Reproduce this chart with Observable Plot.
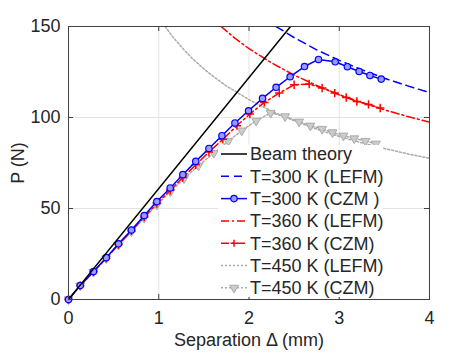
<!DOCTYPE html>
<html><head><meta charset="utf-8">
<script src="https://cdn.jsdelivr.net/npm/d3@7"></script>
<script src="https://cdn.jsdelivr.net/npm/@observablehq/plot@0.6"></script>
<style>body{margin:0;background:#fff;font-family:"Liberation Sans",Arial,sans-serif}</style>
</head><body><div id="chart"></div>
<script>
const xTicks = [0,1,2,3,4];
const yTicks = [0,50,100,150];
const beamX = [0, 2.46];
const beamP = [0, 150];
const lefm300X = [2.3,2.5,2.75,3,3.25,3.5,3.75,4];
const lefm300P = [150,143.9,137.2,131.4,126.2,121.6,117.5,113.7];
const cz300X = [0,0.13,0.277,0.418,0.554,0.698,0.839,0.979,1.127,1.267,1.41,1.556,1.70,1.844,1.995,2.15,2.30,2.456,2.615,2.77,2.955,3.09,3.22,3.34,3.465];
const cz300P = [0,7.7,15.4,23,30.6,38.2,46.1,53.8,61.3,68.6,75.9,83,90,97,103.7,110.5,116.6,122.4,128,131.9,130.6,127.9,125.3,123.1,121.1];
const lefm360X = [1.69,1.85,2,2.25,2.5,2.75,3,3.25,3.5,3.75,4];
const lefm360P = [150,143.3,137.8,130,123.3,117.6,112.6,108.2,104.2,100.7,97.5];
const cz360X = [0,0.13,0.277,0.418,0.554,0.698,0.839,0.979,1.127,1.267,1.41,1.556,1.71,1.866,2.01,2.17,2.335,2.50,2.667,2.81,2.95,3.077,3.195,3.324,3.454];
const cz360P = [0,7.6,15.2,22.7,30.2,37.7,45.3,52.7,60,67,74,81,88,95.5,101.9,108.3,113.4,118,118.4,116.2,113.4,111,108.8,107.2,105.2];
const lefm450X = [1.07,1.15,1.25,1.375,1.5,1.625,1.75,2,2.25,2.5,2.75,3,3.25,3.5,3.75,4];
const lefm450P = [150,144.7,138.8,132.3,126.7,121.8,117.3,109.8,103.5,98.2,93.6,89.6,86.1,83,80.1,77.6];
const cz450X = [0,0.13,0.277,0.418,0.554,0.698,0.839,0.979,1.13,1.28,1.44,1.61,1.77,1.92,2.08,2.24,2.40,2.555,2.68,2.81,2.925,3.047,3.166,3.29,3.406];
const cz450P = [0,7.6,15.1,22.6,30,37.4,44.8,52,59.3,66.5,73.5,80.5,87,92.8,98.2,102.5,100.6,97.7,95.5,93.7,91.8,90,88.5,87.1,85.6];
const legendLabels = ["Beam theory","T=300 K (LEFM)","T=300 K (CZM )","T=360 K (LEFM)","T=360 K (CZM)","T=450 K (LEFM)","T=450 K (CZM)"];

const zip = (X, Y) => X.map((x, i) => ({x, y: Y[i]}));
const beam = zip(beamX, beamP), l300 = zip(lefm300X, lefm300P), c300 = zip(cz300X, cz300P);
const l360 = zip(lefm360X, lefm360P), c360 = zip(cz360X, cz360P);
const l450 = zip(lefm450X, lefm450P), c450 = zip(cz450X, cz450P);

const W = 474, H = 355, mL = 68, mR = 45, mT = 26, mB = 56;
const fw = W - mL - mR, fh = H - mT - mB, tk = 5;
const ink = "#262626";
const styles = [
  {stroke: "#000", dash: null, sym: null},
  {stroke: "#0000ff", dash: "8,5", sym: null},
  {stroke: "#0000ff", dash: null, sym: "circle"},
  {stroke: "#ff0000", dash: "8,3,2,3", sym: null},
  {stroke: "#ff0000", dash: "8,3,2,3", sym: "plus"},
  {stroke: "#aaaaaa", dash: "2,2", sym: null},
  {stroke: "#aaaaaa", dash: "2,2", sym: "tri"}
];

const plot = Plot.plot({
  width: W, height: H, marginLeft: mL, marginRight: mR, marginTop: mT, marginBottom: mB,
  style: {fontFamily: '"Liberation Sans", Arial, sans-serif', fontSize: "18px", color: ink, background: "#fff"},
  x: {domain: [0, 4]},
  y: {domain: [0, 150]},
  marks: [
    Plot.gridX(xTicks, {stroke: "#e3e3e3", strokeOpacity: 1}),
    Plot.gridY(yTicks, {stroke: "#e3e3e3", strokeOpacity: 1}),
    Plot.line(l450, {x: "x", y: "y", stroke: "#aaaaaa", strokeWidth: 1.5, strokeDasharray: "2,2", clip: true}),
    Plot.line(c450, {x: "x", y: "y", stroke: "#aaaaaa", strokeWidth: 1.5, strokeDasharray: "2,2"}),
    Plot.dot(c450, {x: "x", y: "y", symbol: "triangle", rotate: 180, r: 3.3, fill: "#cccccc", stroke: "#aaaaaa", strokeWidth: 1}),
    Plot.line(l360, {x: "x", y: "y", stroke: "#ff0000", strokeWidth: 1.5, strokeDasharray: "8,3,2,3", clip: true}),
    Plot.line(c360, {x: "x", y: "y", stroke: "#ff0000", strokeWidth: 1.5, strokeDasharray: "8,3,2,3"}),
    Plot.dot(c360, {x: "x", y: "y", symbol: "plus", r: 2.8, stroke: "#ff0000", strokeWidth: 1.5}),
    Plot.line(l300, {x: "x", y: "y", stroke: "#0000ff", strokeWidth: 1.5, strokeDasharray: "8,5", clip: true}),
    Plot.line(c300, {x: "x", y: "y", stroke: "#0000ff", strokeWidth: 1.5}),
    Plot.dot(c300, {x: "x", y: "y", r: 3.2, fill: "#9a9aff", stroke: "#0000ff", strokeWidth: 1.2}),
    Plot.line(beam, {x: "x", y: "y", stroke: "#000", strokeWidth: 1.5, clip: true}),
    Plot.frame({stroke: "#404040", strokeWidth: 1}),
    Plot.tickX(xTicks, {x: d => d, stroke: "#404040", insetTop: fh - tk}),
    Plot.tickX(xTicks, {x: d => d, stroke: "#404040", insetBottom: fh - tk}),
    Plot.tickY(yTicks, {y: d => d, stroke: "#404040", insetRight: fw - tk}),
    Plot.tickY(yTicks, {y: d => d, stroke: "#404040", insetLeft: fw - tk}),
    Plot.axisX(xTicks, {tickSize: 0, tickPadding: 12, fill: ink, fontSize: 18, label: "Separation Δ (mm)", labelAnchor: "center", labelArrow: "none", labelOffset: 46}),
    Plot.axisY(yTicks, {tickSize: 0, tickPadding: 8, fill: ink, fontSize: 18, label: "P (N)", labelAnchor: "center", labelArrow: "none", labelOffset: 57})
  ]
});

const svg = d3.select(plot);
const g = svg.append("g").attr("font-family", '"Liberation Sans", Arial, sans-serif').attr("font-size", 18).attr("text-anchor", "start");
g.append("rect").attr("x", 218).attr("y", 145).attr("width", 165).attr("height", 152).attr("fill", "#fff");
legendLabels.forEach((lab, i) => {
  const cy = 154 + i * 22.3, s = styles[i];
  const ln = g.append("line").attr("x1", 221).attr("x2", 247).attr("y1", cy).attr("y2", cy)
    .attr("stroke", s.stroke).attr("stroke-width", 1.5);
  if (s.dash) ln.attr("stroke-dasharray", s.dash);
  if (s.sym === "circle") g.append("circle").attr("cx", 234).attr("cy", cy).attr("r", 3.2).attr("fill", "#9a9aff").attr("stroke", s.stroke).attr("stroke-width", 1.2);
  if (s.sym === "plus") g.append("path").attr("d", `M${230.5},${cy}h7M${234},${cy-3.5}v7`).attr("stroke", s.stroke).attr("stroke-width", 1.5);
  if (s.sym === "tri") g.append("path").attr("d", d3.symbol(d3.symbolTriangle, 34)()).attr("transform", `translate(234,${cy}) rotate(180)`).attr("fill", "#cccccc").attr("stroke", s.stroke);
  g.append("text").attr("x", 250).attr("y", cy).attr("dy", "0.35em").attr("fill", ink).attr("text-anchor", "start").text(lab);
});
document.getElementById("chart").appendChild(plot);
</script></body></html>
